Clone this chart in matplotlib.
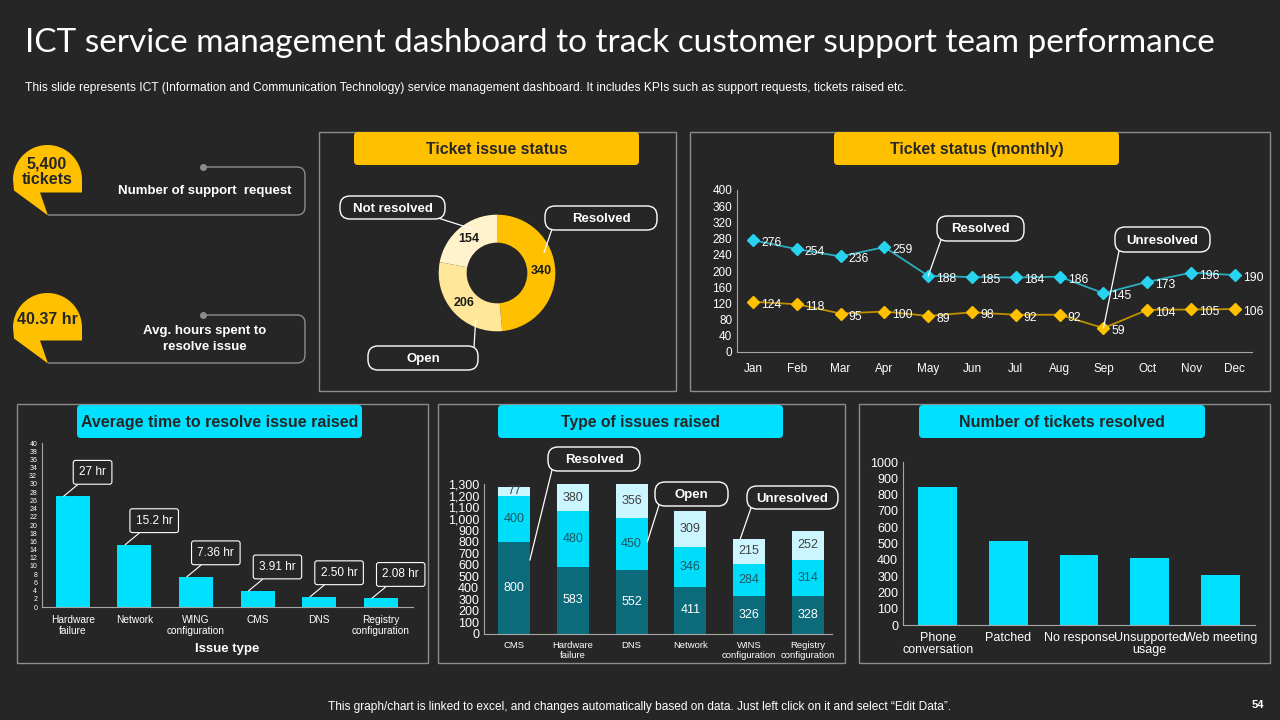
import numpy as np
import matplotlib
matplotlib.use('Agg')
import matplotlib.pyplot as plt
from matplotlib import font_manager
from matplotlib.patches import Rectangle, FancyBboxPatch, Polygon, PathPatch
from matplotlib.path import Path
from matplotlib.ticker import FuncFormatter

# ---- datos ----
donut_labels = ['Resolved', 'Open', 'Not resolved']
donut_values = [340, 206, 154]

months = ['Jan', 'Feb', 'Mar', 'Apr', 'May', 'Jun', 'Jul', 'Aug', 'Sep', 'Oct', 'Nov', 'Dec']
monthly_resolved = [276, 254, 236, 259, 188, 185, 184, 186, 145, 173, 196, 190]
monthly_unresolved = [124, 118, 95, 100, 89, 98, 92, 92, 59, 104, 105, 106]

avg_issue_types = ['Hardware\nfailure', 'Network', 'WING\nconfiguration', 'CMS', 'DNS', 'Registry\nconfiguration']
avg_hours = [27, 15.2, 7.36, 3.91, 2.50, 2.08]
avg_hour_labels = ['27 hr', '15.2 hr', '7.36 hr', '3.91 hr', '2.50 hr', '2.08 hr']

issue_types = ['CMS', 'Hardware\nfailure', 'DNS', 'Network', 'WINS\nconfiguration', 'Registry\nconfiguration']
issues_resolved = [800, 583, 552, 411, 326, 328]
issues_open = [400, 480, 450, 346, 284, 314]
issues_unresolved = [77, 380, 356, 309, 215, 252]

channels = ['Phone\nconversation', 'Patched', 'No response', 'Unsupported\nusage', 'Web meeting']
channel_resolved = [845, 515, 430, 410, 305]

kpi_values = ['5,400\ntickets', '40.37 hr']
kpi_names = ['Number of support  request', 'Avg. hours spent to\nresolve issue']

# ---- estilo ----
BG = '#262626'
YELLOW = '#FFC000'
CYAN = '#00E1FF'
EDGE = '#8C8C8C'
DARK = '#262626'

names = {f.name for f in font_manager.fontManager.ttflist}
NARROW = 'Liberation Sans Narrow' if 'Liberation Sans Narrow' in names else 'Liberation Sans'
plt.rcParams['font.family'] = ['Liberation Sans', 'DejaVu Sans']

fig = plt.figure(figsize=(12.8, 7.2), dpi=100, facecolor=BG)
renderer = fig.canvas.get_renderer()


def rect(l, t, r, b):
    return [l / 1280, 1 - b / 720, (r - l) / 1280, (b - t) / 720]


def fit_width(txt, width):
    w = txt.get_window_extent(renderer).width
    txt.set_fontsize(txt.get_fontsize() * width / w)


def overlay(z):
    a = fig.add_axes([0, 0, 1, 1])
    a.set_xlim(0, 1280)
    a.set_ylim(720, 0)
    a.axis('off')
    a.set_zorder(z)
    return a


bg = overlay(0)
fg = overlay(5)

# titulo y textos
t = bg.text(25, 43, 'ICT service management dashboard to track customer support team performance',
            color='white', fontsize=24, family=['Lato', 'DejaVu Sans'], va='center')
fit_width(t, 1190)
t = bg.text(25, 88, 'This slide represents ICT (Information and Communication Technology) service management '
            'dashboard. It includes KPIs such as support requests, tickets raised etc.',
            color='white', fontsize=8, family=NARROW, va='center')
fit_width(t, 883)
t = bg.text(640, 707, 'This graph/chart is linked to excel, and changes automatically based on data. '
            'Just left click on it and select \u201cEdit Data\u201d.',
            color='white', fontsize=8, family=NARROW, ha='center', va='center')
fit_width(t, 630)
bg.text(1258, 705, '54', color='white', fontsize=8, fontweight='bold', ha='center', va='center')

# paneles
panels = [(319, 132, 676, 391), (690, 132, 1270, 391), (17, 404, 428, 663),
          (438, 404, 845, 663), (859, 404, 1270, 663)]
for l, tp, r, b in panels:
    bg.add_patch(Rectangle((l, tp), r - l, b - tp, fill=False, ec=EDGE, lw=1))

banners = [((354, 132, 639, 165), YELLOW, 'Ticket issue status', 141),
           ((834, 132, 1119, 165), YELLOW, 'Ticket status (monthly)', 173),
           ((77, 405, 362, 438), CYAN, 'Average time to resolve issue raised', 275),
           ((498, 405, 783, 438), CYAN, 'Type of issues raised', 158),
           ((919, 405, 1205, 438), CYAN, 'Number of tickets resolved', 204)]
for (l, tp, r, b), col, title, w in banners:
    bg.add_patch(FancyBboxPatch((l, tp), r - l, b - tp, boxstyle='round,pad=0,rounding_size=4',
                                fc=col, ec='none'))
    t = bg.text((l + r) / 2, (tp + b) / 2 + 1, title, color=DARK, fontsize=12, fontweight='bold',
                family=NARROW, ha='center', va='center')
    fit_width(t, w)


# KPIs
def bubble(cy):
    cx, r = 47.5, 34.5
    a = np.linspace(0, np.pi, 40)
    pts = [(82, cy + 13)] + [(cx + r * np.cos(k), cy - r * np.sin(k)) for k in a]
    pts += [(14, cy + 11), (48, cy + 36), (40, cy + 13)]
    bg.add_patch(Polygon(pts, closed=True, fc=YELLOW, ec='none'))


def connector(y):
    verts = [(203, y), (297, y), (305, y), (305, y + 8), (305, y + 40), (305, y + 48),
             (297, y + 48), (48, y + 48)]
    codes = [Path.MOVETO, Path.LINETO, Path.CURVE3, Path.CURVE3, Path.LINETO,
             Path.CURVE3, Path.CURVE3, Path.LINETO]
    bg.add_patch(PathPatch(Path(verts, codes), fill=False, ec=EDGE, lw=1))
    bg.plot(203, y, 'o', ms=4, color=EDGE)


for k, (val, name) in enumerate(zip(kpi_values, kpi_names)):
    y = 167 + 148 * k
    bubble(y + 12.5)
    connector(y)
    bg.text(47, y + 5, val, color=DARK, fontsize=11.5, fontweight='bold', family=NARROW,
            ha='center', va='center', linespacing=1.05)
    bg.text(205, y + 24, name, color='white', fontsize=9.5, fontweight='bold', family=NARROW,
            ha='center', va='center', linespacing=1.4)


def callout(ax, text, xy, box, anchor):
    l, tp, r, b = box
    fg.add_patch(FancyBboxPatch((l, tp), r - l, b - tp, boxstyle='round,pad=0,rounding_size=10',
                                fc=BG, ec='white', lw=1))
    fg.text((l + r) / 2, (tp + b) / 2 + 1, text, color='white', fontsize=9.5, fontweight='bold',
            family=NARROW, ha='center', va='center')
    ax.annotate('', xy=xy, xytext=anchor, textcoords=fg.transData, annotation_clip=False,
                arrowprops=dict(arrowstyle='-', color='white', lw=0.9, shrinkA=0, shrinkB=0))


# ---- donut ----
ax_d = fig.add_axes(rect(427, 203, 567, 343))
ax_d.set_zorder(1)
total = sum(donut_values)
wedges, _, autotexts = ax_d.pie(donut_values, colors=[YELLOW, '#FFE699', '#FFF2CC'], startangle=90,
                                counterclock=False, radius=1, pctdistance=0.76,
                                wedgeprops=dict(width=0.48, edgecolor='none'),
                                autopct=lambda p: f'{p * total / 100:.0f}',
                                textprops=dict(color='#1A1A1A', fontsize=9, fontweight='bold',
                                               family=NARROW))
ax_d.set_xlim(-1.2, 1.2)
ax_d.set_ylim(-1.2, 1.2)
ax_d.set_aspect('equal')
ax_d.axis('off')
# (caja, anclaje, fraccion del arco donde apunta la linea)
donut_boxes = [((545, 206, 657, 230), (552, 229), 0.62),
               ((368, 346, 478, 370), (474, 347), 0.72),
               ((340, 196, 445, 219), (438, 218), 0.38)]
for w, name, (box, anchor, frac) in zip(wedges, donut_labels, donut_boxes):
    ang = np.deg2rad(w.theta1 + (w.theta2 - w.theta1) * frac)
    callout(ax_d, name, (0.88 * np.cos(ang), 0.88 * np.sin(ang)), box, anchor)


def style_axes(ax, labelsize):
    ax.set_facecolor('none')
    ax.set_zorder(1)
    for s in ['top', 'right']:
        ax.spines[s].set_visible(False)
    for s in ['left', 'bottom']:
        ax.spines[s].set_color('#A6A6A6')
        ax.spines[s].set_linewidth(0.8)
    ax.tick_params(colors='white', length=0, labelsize=labelsize)


# ---- linea mensual ----
ax_l = fig.add_axes(rect(737, 190, 1252, 352))
style_axes(ax_l, 8.5)
x = np.arange(len(months))
ax_l.plot(x, monthly_resolved, color='#2AAFBF', lw=1.3, marker='D', ms=6.5,
          mfc='#27D3EE', mec='#27D3EE')
ax_l.plot(x, monthly_unresolved, color='#BF9000', lw=1.3, marker='D', ms=6.5,
          mfc=YELLOW, mec=YELLOW)
for i in x:
    ax_l.annotate(str(monthly_resolved[i]), (i, monthly_resolved[i]), xytext=(8, -3),
                  textcoords='offset pixels', color='white', fontsize=8.8, va='center')
    ax_l.annotate(str(monthly_unresolved[i]), (i, monthly_unresolved[i]), xytext=(8, -3),
                  textcoords='offset pixels', color='white', fontsize=8.8, va='center')
ax_l.set_xlim(-0.365, 11.39)
ax_l.set_ylim(0, 400)
ax_l.set_yticks(range(0, 401, 40))
ax_l.set_xticks(x)
ax_l.set_xticklabels(months)
ax_l.tick_params(axis='x', pad=8)
callout(ax_l, 'Resolved', (4, monthly_resolved[4]), (937, 216, 1024, 241), (941, 240))
callout(ax_l, 'Unresolved', (8, monthly_unresolved[8]), (1115, 227, 1210, 252), (1119, 251))

# ---- tiempo promedio ----
ax_a = fig.add_axes(rect(42, 443, 413, 607))
style_axes(ax_a, 5)
xa = np.arange(len(avg_issue_types))
ax_a.bar(xa, avg_hours, width=0.55, color=CYAN)
ax_a.set_xlim(-0.5, 5.52)
ax_a.set_ylim(0, 40)
ax_a.set_yticks(range(0, 41, 2))
ax_a.set_xticks(xa)
ax_a.set_xticklabels(avg_issue_types, fontsize=7.3, linespacing=1.1)
ax_a.tick_params(axis='x', pad=6)
ax_a.set_xlabel('Issue type', color='white', fontsize=9.5, fontweight='bold', labelpad=5)
for i, (v, lbl) in enumerate(zip(avg_hours, avg_hour_labels)):
    ax_a.annotate(lbl, xy=(i - 0.15, v), xytext=(29, 24), textcoords='offset pixels',
                  color='white', fontsize=8.5, ha='center', va='center', annotation_clip=False,
                  bbox=dict(boxstyle='round,pad=0.5,rounding_size=0.2', fc=BG, ec='white', lw=0.8),
                  arrowprops=dict(arrowstyle='-', color='white', lw=0.8, shrinkA=0, shrinkB=0))

# ---- tipos de incidencia ----
ax_t = fig.add_axes(rect(484, 484, 832, 634))
style_axes(ax_t, 9)
xt = np.arange(len(issue_types))
bottom_open = np.array(issues_resolved)
bottom_unres = bottom_open + np.array(issues_open)
c1 = ax_t.bar(xt, issues_resolved, width=0.545, color='#0B6B7B')
c2 = ax_t.bar(xt, issues_open, width=0.545, bottom=bottom_open, color='#00DDFB')
c3 = ax_t.bar(xt, issues_unresolved, width=0.545, bottom=bottom_unres, color='#CCF6FF')
ax_t.bar_label(c1, label_type='center', color='white', fontsize=9)
ax_t.bar_label(c2, label_type='center', color='#1D5661', fontsize=9)
ax_t.bar_label(c3, label_type='center', color='#404040', fontsize=9)
ax_t.set_xlim(-0.51, 5.41)
ax_t.set_ylim(0, 1300)
ax_t.set_yticks(range(0, 1301, 100))
ax_t.yaxis.set_major_formatter(FuncFormatter(lambda v, p: f'{v:,.0f}'))
ax_t.set_xticks(xt)
ax_t.set_xticklabels(issue_types, fontsize=6.8, linespacing=1.1)
ax_t.tick_params(axis='x', pad=5)
callout(ax_t, 'Resolved', (0.27, issues_resolved[0] * 0.8), (548, 447, 640, 471), (552, 470))
callout(ax_t, 'Open', (2.27, issues_resolved[2] + issues_open[2] * 0.55), (655, 482, 728, 506),
        (659, 505))
callout(ax_t, 'Unresolved', (3.85, bottom_unres[4] + issues_unresolved[4]), (747, 486, 838, 509),
        (751, 508))

# ---- tickets resueltos ----
ax_r = fig.add_axes(rect(903, 462, 1255, 625))
style_axes(ax_r, 9)
xr = np.arange(len(channels))
ax_r.bar(xr, channel_resolved, width=0.55, color=CYAN)
ax_r.set_xlim(-0.49, 4.49)
ax_r.set_ylim(0, 1000)
ax_r.set_yticks(range(0, 1001, 100))
ax_r.set_xticks(xr)
ax_r.set_xticklabels(channels, fontsize=9, linespacing=1.0)
ax_r.tick_params(axis='x', pad=5)

fig.savefig('out.png', dpi=100, facecolor=BG)
